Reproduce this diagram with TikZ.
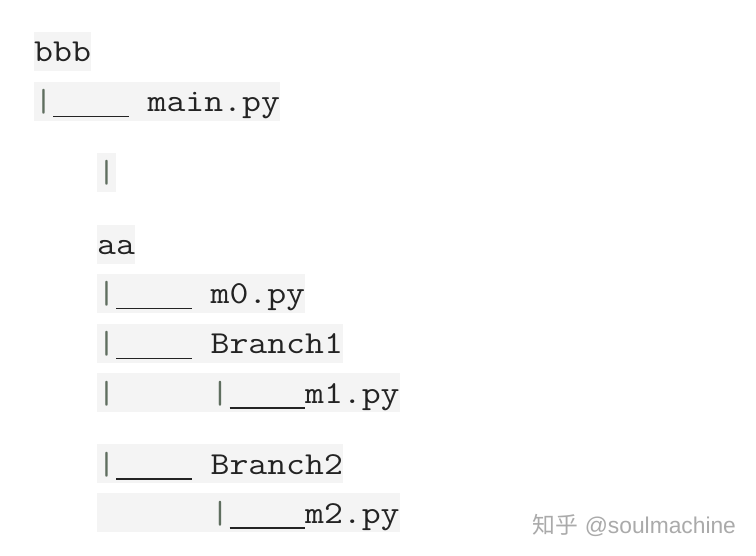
\documentclass[tikz,border=0pt]{standalone}
\usepackage{fontspec}
\newfontfamily\cjkfont{Noto Sans CJK SC}
\newfontfamily\wmfont{Liberation Sans}
\definecolor{linebg}{RGB}{244,244,244}
\definecolor{codetext}{RGB}{35,35,35}
\definecolor{pipecol}{RGB}{95,110,95}
\definecolor{wmcol}{RGB}{170,170,170}
\newcommand\pp{{\color{pipecol}|}}
\newcommand\us{\sbox0{0000}\rule[-5.5pt]{\wd0}{1.4pt}}
\newcommand\sk[1]{\sbox0{0}\hspace*{#1\wd0}}
\newcommand\cl[1]{\scalebox{1.147}[1]{#1}}
\begin{document}
\begin{tikzpicture}[x=1pt,y=-1pt,
  codeline/.style={anchor=base west, fill=linebg, inner xsep=0pt, inner ysep=0pt,
    text height=30pt, text depth=9pt, text=codetext,
    font=\ttfamily\fontsize{32}{38}\selectfont},
  watermark/.style={anchor=base west, inner sep=0pt, text=wmcol}]
\useasboundingbox (0,0) rectangle (756,556);
\fill[white] (0,0) rectangle (756,556);
\node[codeline] (bbb) at (34,62) {\cl{bbb}};
\node[codeline] (main) at (34,112) {\cl{\pp\us\sk{1}main.py}};
\node[codeline] (bar) at (97,183) {\cl{\pp}};
\node[codeline] (aa) at (97,255) {\cl{aa}};
\node[codeline] (m0) at (97,304) {\cl{\pp\us\sk{1}m0.py}};
\node[codeline] (b1) at (97,354) {\cl{\pp\us\sk{1}Branch1}};
\node[codeline] (m1) at (97,403) {\cl{\pp\sk{5}\pp\us m1.py}};
\node[codeline] (b2) at (97,474) {\cl{\pp\us\sk{1}Branch2}};
\node[codeline] (m2) at (97,523) {\cl{\sk{6}\pp\us m2.py}};
\node[watermark] (wm) at (532,533) {\cjkfont\fontsize{22.8}{26}\selectfont 知乎\hspace{7pt}\wmfont @soulmachine};
\end{tikzpicture}
\end{document}
